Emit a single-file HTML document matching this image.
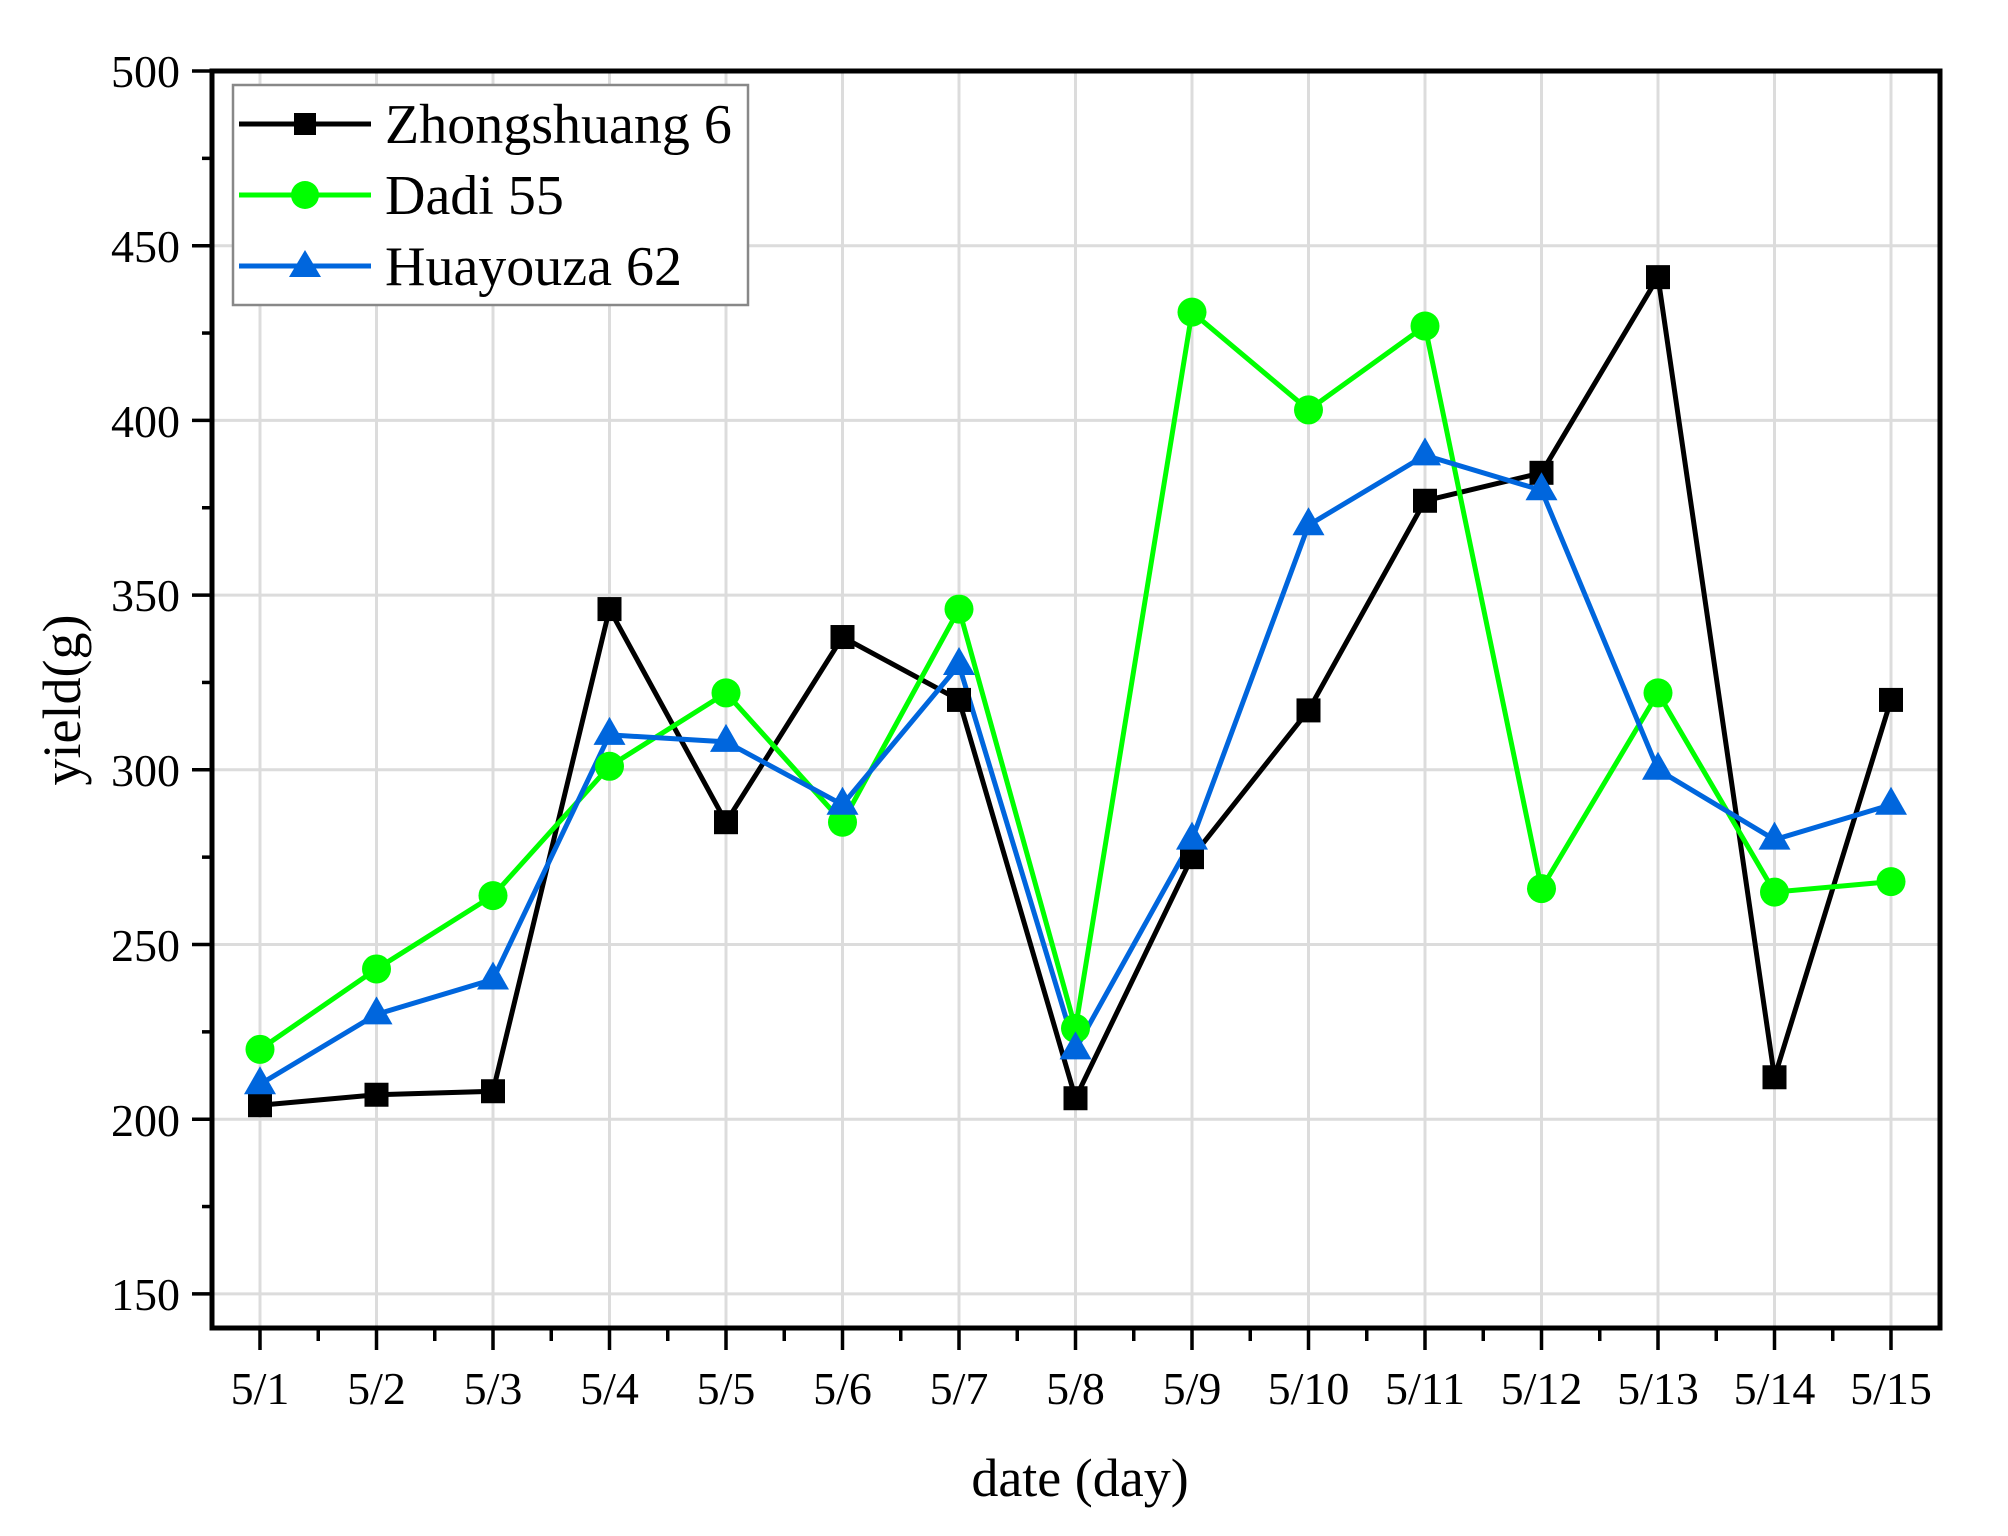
<!DOCTYPE html>
<html><head><meta charset="utf-8"><style>
html,body{margin:0;padding:0;background:#fff;}
svg{display:block;font-family:"Liberation Serif",serif;}
</style></head><body>
<svg id="s" width="2008" height="1536" viewBox="0 0 2008 1536" xmlns="http://www.w3.org/2000/svg">
<rect width="2008" height="1536" fill="#fff"/>
<g id="grid" stroke="#dcdcdc" stroke-width="3"></g>
<g id="ticks" stroke="#000" stroke-width="3.5"></g>
<rect x="212" y="71" width="1728" height="1257" fill="none" stroke="#000" stroke-width="5"/>
<g font-size="46" text-anchor="end" fill="#000">
<text x="180" y="87">500</text>
<text x="180" y="262">450</text>
<text x="180" y="437">400</text>
<text x="180" y="611">350</text>
<text x="180" y="786">300</text>
<text x="180" y="961">250</text>
<text x="180" y="1136">200</text>
<text x="180" y="1310">150</text>
</g>
<g font-size="46" text-anchor="middle" fill="#000">
<text x="260" y="1404">5/1</text>
<text x="376.5" y="1404">5/2</text>
<text x="493" y="1404">5/3</text>
<text x="609.5" y="1404">5/4</text>
<text x="726" y="1404">5/5</text>
<text x="842.5" y="1404">5/6</text>
<text x="959" y="1404">5/7</text>
<text x="1075.5" y="1404">5/8</text>
<text x="1192" y="1404">5/9</text>
<text x="1308.5" y="1404">5/10</text>
<text x="1425" y="1404">5/11</text>
<text x="1541.5" y="1404">5/12</text>
<text x="1658" y="1404">5/13</text>
<text x="1774.5" y="1404">5/14</text>
<text x="1891" y="1404">5/15</text>
</g>
<text x="1080" y="1496" font-size="54" text-anchor="middle">date (day)</text>
<text transform="translate(80,700) rotate(-90)" font-size="54" text-anchor="middle">yield(g)</text>
<g id="series"></g>
<rect x="233" y="85" width="515" height="220" fill="#fff" stroke="#888" stroke-width="2.5"/>
<line x1="239" y1="124" x2="371" y2="124" stroke="#000" stroke-width="5"/>
<rect x="294" y="113" width="22" height="22" fill="#000"/>
<line x1="239" y1="195" x2="371" y2="195" stroke="#00ff00" stroke-width="5"/>
<circle cx="305" cy="195" r="14" fill="#00ff00"/>
<line x1="239" y1="266" x2="371" y2="266" stroke="#0066dd" stroke-width="5"/>
<polygon points="305,250 321,277 289,277" fill="#0066dd"/>
<g font-size="56" fill="#000">
<text x="385" y="143">Zhongshuang 6</text>
<text x="385" y="214">Dadi 55</text>
<text x="385" y="285">Huayouza 62</text>
</g>
</svg>
<script>
var NS="http://www.w3.org/2000/svg";
function X(i){return 260+i*116.5;}
function Y(v){return 71+(500-v)*3.494;}
function el(p,t,a){var e=document.createElementNS(NS,t);for(var k in a)e.setAttribute(k,a[k]);p.appendChild(e);return e;}
var g=document.getElementById("grid"),tk=document.getElementById("ticks"),sr=document.getElementById("series");
for(var i=0;i<15;i++){el(g,"line",{x1:X(i),y1:73,x2:X(i),y2:1326});}
for(var v=150;v<500;v+=50){el(g,"line",{x1:214,y1:Y(v),x2:1938,y2:Y(v)});}
for(var i=0;i<15;i++){el(tk,"line",{x1:X(i),y1:1328,x2:X(i),y2:1350});if(i<14)el(tk,"line",{x1:X(i)+58.25,y1:1328,x2:X(i)+58.25,y2:1341});}
for(var v=150;v<=500;v+=25){var big=(v%50==0);el(tk,"line",{x1:big?192:202,y1:Y(v),x2:212,y2:Y(v)});}
var B=[204,207,208,346,285,338,320,206,275,317,377,385,441,212,320];
var G=[220,243,264,301,322,285,346,226,431,403,427,266,322,265,268];
var U=[210,230,240,310,308,290,330,220,280,370,390,380,300,280,290];
function line(d,c){var p=d.map(function(v,i){return X(i)+","+Y(v);}).join(" ");el(sr,"polyline",{points:p,fill:"none",stroke:c,"stroke-width":5,"stroke-linejoin":"miter"});}
line(B,"#000");line(G,"#00ff00");line(U,"#0066dd");
B.forEach(function(v,i){el(sr,"rect",{x:X(i)-12,y:Y(v)-12,width:24,height:24,fill:"#000"});});
G.forEach(function(v,i){el(sr,"circle",{cx:X(i),cy:Y(v),r:14.5,fill:"#00ff00"});});
U.forEach(function(v,i){var x=X(i),y=Y(v);el(sr,"polygon",{points:(x)+","+(y-18)+" "+(x+16)+","+(y+10)+" "+(x-16)+","+(y+10),fill:"#0066dd"});});
</script>
</body></html>
